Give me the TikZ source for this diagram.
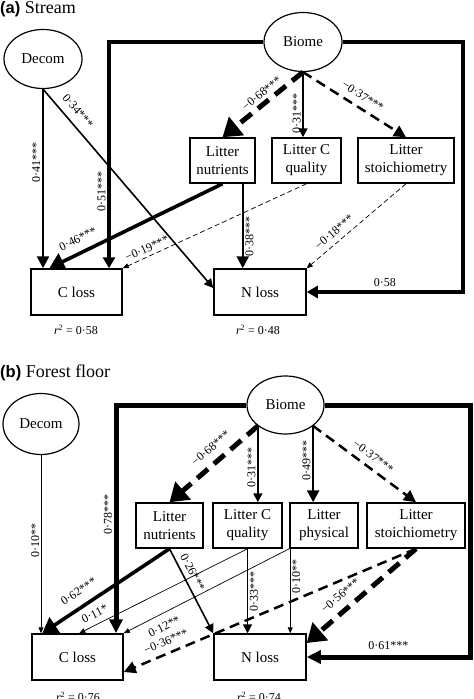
\documentclass[tikz,border=0pt]{standalone}
\usepackage{fontspec}
\setmainfont{Liberation Serif}
\newfontfamily\panelfont{Liberation Sans}
\usetikzlibrary{arrows.meta,shapes.geometric}

\begin{document}
\begin{tikzpicture}[x=1pt, y=-1pt,
    every node/.style={font=\fontsize{15}{18}\selectfont},
    var/.style={draw, line width=1.5pt, fill=white, align=center, inner sep=0pt, minimum height=45pt},
    lat/.style={draw, ellipse, line width=1.2pt, fill=white, inner sep=0pt, minimum width=78pt, minimum height=59pt},
    lbl/.style={font=\fontsize{12}{12}\selectfont, inner sep=1.5pt},
    lblL/.style={lbl, rotate=90, anchor=south},
    lblR/.style={lbl, rotate=90, anchor=north},
    ttl/.style={anchor=base west, inner sep=0pt, font=\fontsize{18}{20}\selectfont},
    pthA/.style={line width=0.7pt, -{Triangle[length=6pt,width=5pt]}},
    pthB/.style={line width=1.6pt, -{Triangle[length=9pt,width=9pt]}},
    pthC/.style={line width=2.5pt, -{Triangle[length=12pt,width=12pt]}},
    pthD/.style={line width=3.6pt, -{Triangle[length=15pt,width=18pt]}},
    pthE/.style={line width=5pt, -{Triangle[length=18pt,width=23pt]}},
    frmA/.style={line width=3.8pt, -{Triangle[length=11pt,width=12pt]}},
    frmB/.style={line width=5pt, -{Triangle[length=14pt,width=13pt]}},
    dshA/.style={dash pattern=on 5pt off 3pt},
    dshB/.style={dash pattern=on 10pt off 6pt},
    dshC/.style={dash pattern=on 14pt off 8pt},
  ]
  \useasboundingbox (0,0) rectangle (474,699);

  % (a) stream
  \node[ttl] (ttlA) at (0,13) {{\panelfont\bfseries\fontsize{16.5}{20}\selectfont (a)} Stream};
  \node[lat] (decA) at (43,59) {Decom};
  \node[lat] (biomeA) at (303,42) {Biome};
  \node[var, minimum width=65pt] (nutrA) at (222.5,160.5) {Litter\\nutrients};
  \node[var, minimum width=69pt] (cqA) at (306.5,160.5) {Litter C\\quality};
  \node[var, minimum width=96pt] (stoA) at (406,160.5) {Litter\\stoichiometry};
  \node[var, minimum width=91pt, minimum height=46pt] (clossA) at (76.5,292) {C loss};
  \node[var, minimum width=92pt, minimum height=46pt] (nlossA) at (260,292) {N loss};
  \node[lbl] (r2cA) at (76,330) {\textit{r}\textsuperscript{2} = 0·58};
  \node[lbl] (r2nA) at (258,330) {\textit{r}\textsuperscript{2} = 0·48};
  \coordinate (cornA) at (463,292);
  \coordinate (nnA) at ([xshift=-13pt]nutrA.south east);

  \draw[frmA] (biomeA.west) -| node[lblL, pos=0.83] {0·51***} ([xshift=32.5pt]clossA.north);
  \draw[frmA] (biomeA.east) -| (cornA) -- node[lbl, above=2pt] {0·58} (nlossA.east);
  \draw[pthC] (decA.south) -- node[lblL, pos=0.41] {0·41***} (decA.south |- clossA.north);
  \draw[pthB] (decA.south) -- node[lbl, sloped, above=6pt, pos=0.15] {0·34***} ([yshift=4pt]nlossA.west);
  \draw[pthE, dshC] (biomeA.south) -- node[lbl, sloped, above=1.5pt, pos=0.44] {−0·68***} (nutrA.north);
  \draw[pthB] (biomeA.south) -- node[lblL, pos=0.64] {0·31***} (biomeA.south |- cqA.north);
  \draw[pthC, dshB] (biomeA.south) -- node[lbl, sloped, above=5pt, pos=0.52] {−0·37***} (stoA.north);
  \draw[pthD] (nutrA.south) -- node[lbl, sloped, above=6.5pt, pos=0.8] {0·46***} ([xshift=19pt]clossA.north west);
  \draw[pthC] (nnA) -- node[lblR, pos=0.63] {0·38***} (nnA |- nlossA.north);
  \draw[pthA, dshA] (cqA.south) -- node[lbl, sloped, above=2pt, pos=0.85] {−0·19***} (clossA.north east);
  \draw[pthA, dshA] (stoA.south) -- node[lbl, sloped, above=4pt, pos=0.66] {−0·18***} (nlossA.north east);

  % (b) forest floor
  \node[ttl] (ttlB) at (0,377) {{\panelfont\bfseries\fontsize{16.5}{20}\selectfont (b)} Forest floor};
  \node[lat, minimum width=76pt, minimum height=61pt] (decB) at (41,424) {Decom};
  \node[lat, minimum width=77pt, minimum height=58pt] (biomeB) at (285.5,405) {Biome};
  \node[var, minimum width=67pt] (nutrB) at (169.5,525.5) {Litter\\nutrients};
  \node[var, minimum width=69pt] (cqB) at (247.5,525.5) {Litter C\\quality};
  \node[var, minimum width=68pt] (physB) at (324,525.5) {Litter\\physical};
  \node[var, minimum width=98pt] (stoB) at (416,525.5) {Litter\\stoichiometry};
  \node[var, minimum width=91pt, minimum height=46pt] (clossB) at (77.5,657) {C loss};
  \node[var, minimum width=92pt, minimum height=46pt] (nlossB) at (260,657) {N loss};
  \node[lbl] (r2cB) at (78,697) {\textit{r}\textsuperscript{2} = 0·76};
  \node[lbl] (r2nB) at (259,697) {\textit{r}\textsuperscript{2} = 0·74};
  \coordinate (cornB) at (470,657);

  \draw[frmB] (biomeB.west) -| node[lblL, pos=0.74] {0·78***} ([xshift=38.5pt]clossB.north);
  \draw[frmB] (biomeB.east) -| (cornB) -- node[lbl, above=3pt] {0·61***} (nlossB.east);
  \draw[pthA] (decB.south) -- node[lblL, pos=0.48] {0·10**} (decB.south |- clossB.north);
  \draw[pthE, dshC] (biomeB.south west) -- node[lbl, sloped, above=6pt, pos=0.43] {−0·68***} (nutrB.north);
  \draw[pthB] (biomeB.south west) -- node[lblL, pos=0.54] {0·31***} (biomeB.south west |- cqB.north);
  \draw[pthC] (biomeB.south east) -- node[lblL, pos=0.45] {0·49***} (biomeB.south east |- physB.north);
  \draw[pthC, dshB] (biomeB.south east) -- node[lbl, sloped, above=4.5pt, pos=0.52] {−0·37***} (stoB.north);
  \draw[pthD] (nutrB.south) -- node[lbl, sloped, above=7.5pt, pos=0.65] {0·62***} ([xshift=11pt]clossB.north west);
  \draw[pthB] (nutrB.south) -- node[lbl, sloped, above=3.5pt, pos=0.33] {0·26***} (nlossB.north west);
  \draw[pthA] (cqB.south) -- node[lbl, sloped, above=4.5pt, pos=0.88] {0·11*} ([xshift=48pt]clossB.north west);
  \draw[pthB] (cqB.south) -- node[lblR, pos=0.5] {0·33***} (cqB.south |- nlossB.north);
  \draw[pthA] (physB.south west) -- node[lbl, sloped, below=6.5pt, pos=0.79] {0·12**} (clossB.north east);
  \draw[pthA] ([xshift=1pt]physB.south west) -- node[lblR, pos=0.33] {0·10**} ([xshift=1pt]physB.south west |- nlossB.north);
  \draw[pthC, dshB] (stoB.south) -- node[lbl, sloped, above=5pt, pos=0.84] {−0·36***} ([yshift=-15pt]clossB.east);
  \draw[pthE, dshC] (stoB.south) -- node[lbl, sloped, above=6pt, pos=0.61] {−0·56***} ([yshift=14pt]nlossB.east);
\end{tikzpicture}
\end{document}
